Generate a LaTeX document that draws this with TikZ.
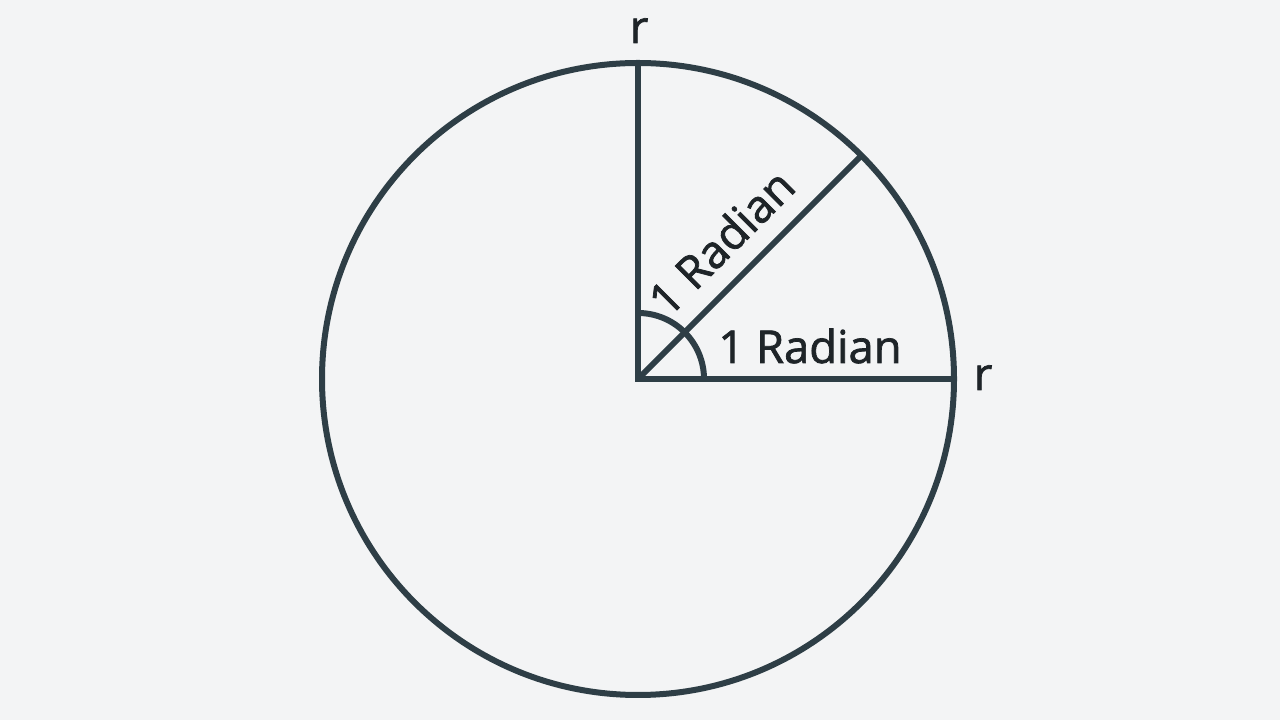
\documentclass[tikz,border=0pt]{standalone}
\usepackage{fontspec}
\setmainfont{Open Sans}
\newfontfamily\lblfont{Open Sans}[FakeBold=1.6]
\usetikzlibrary{calc}
\definecolor{bgc}{HTML}{F3F4F5}
\definecolor{linec}{HTML}{2E3E46}
\definecolor{txtc}{HTML}{1E2428}
\begin{document}
\begin{tikzpicture}[x=0.75pt,y=0.75pt,
  geo/.style={draw=linec,line width=4.5pt},
  lbl/.style={text=txtc,inner sep=0pt,anchor=base,font=\lblfont\fontsize{34}{40}\selectfont}]
\fill[bgc] (0,0) rectangle (1280,720);
\useasboundingbox (0,0) rectangle (1280,720);
\coordinate (O) at (638,341);
\coordinate (T) at (638,657);
\coordinate (R) at (954,341);
\coordinate (D) at ($(O)+(45:316)$);
\draw[geo] (O) circle[radius=316];
\draw[geo] (T) -- (O) -- (R);
\draw[geo] (O) -- (D);
\draw[geo] ($(O)+(66,0)$) arc[start angle=0,end angle=90,radius=66];
\node[lbl] (h) at (810,357) {1 Radian};
\node[lbl,rotate=45] (d) at (733,466) {1 Radian};
\node[lbl] (rt) at (639,677) {r};
\node[lbl] (rr) at (983,330) {r};
\end{tikzpicture}
\end{document}
